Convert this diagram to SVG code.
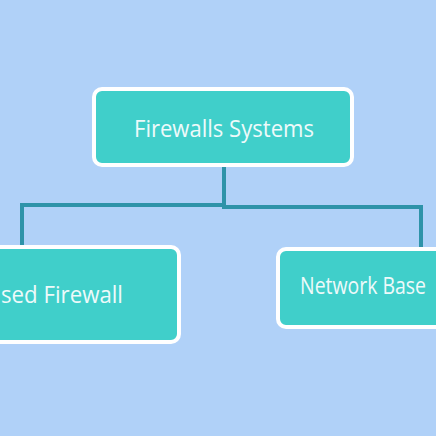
<svg xmlns="http://www.w3.org/2000/svg" width="436" height="436" viewBox="0 0 436 436">
<style>
.box{fill:#40cfca;stroke:#ffffff;stroke-width:4}
.lbl{font-family:"Open Sans","Noto Sans",sans-serif;fill:#eefafa;font-size:24px}
.conn{fill:none;stroke:#2e93a9;stroke-width:4}
</style>
<rect width="436" height="436" fill="#b0d1f8"/>
<g id="connectors">
<path class="conn" d="M224,166 V206"/>
<path class="conn" d="M22,248 V205 H224 V207 H421 V250"/>
</g>
<g id="node-root">
<rect class="box" x="94" y="89" width="258" height="76" rx="8"/>
<text class="lbl" x="134" y="137" textLength="180" lengthAdjust="spacingAndGlyphs">Firewalls Systems</text>
</g>
<g id="node-host">
<rect class="box" x="-20" y="247" width="199" height="95" rx="8"/>
<text class="lbl" x="1" y="303" textLength="122" lengthAdjust="spacingAndGlyphs">sed Firewall</text>
</g>
<g id="node-network">
<rect class="box" x="278" y="249" width="180" height="78" rx="8"/>
<text class="lbl" x="300" y="294" textLength="126" lengthAdjust="spacingAndGlyphs">Network Base</text>
</g>
</svg>
